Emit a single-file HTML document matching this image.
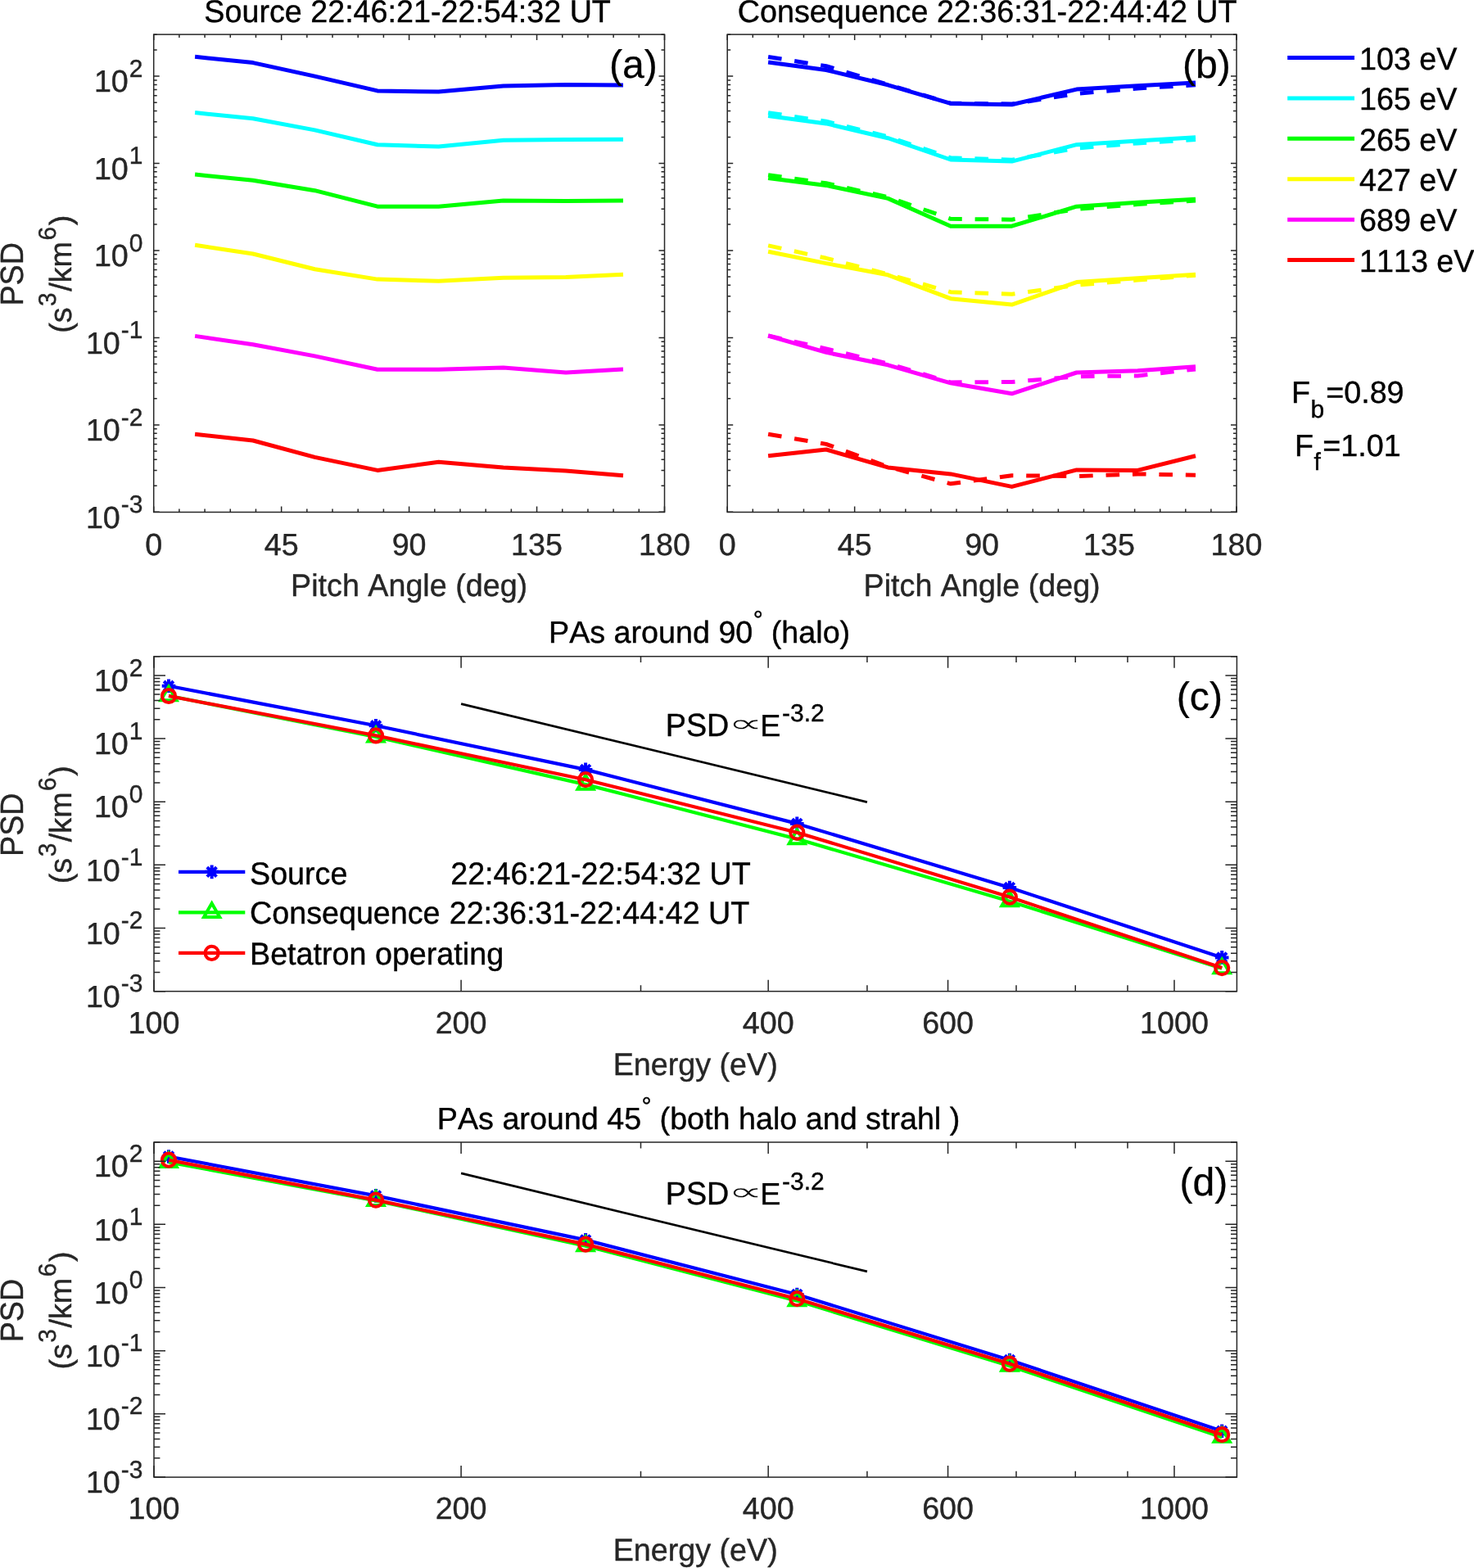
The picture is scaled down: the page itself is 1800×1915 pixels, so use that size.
<!DOCTYPE html>
<html lang="en">
<head>
<meta charset="utf-8">
<title>Electron PSD pitch-angle and energy distributions</title>
<style>
html,body{margin:0;padding:0;background:#fff;overflow:hidden;}
body{width:1800px;height:1915px;overflow:hidden;}
svg{display:block;font-family:'Liberation Sans', sans-serif;}
text{white-space:pre;font-kerning:none;font-variant-ligatures:none;}
</style>
</head>
<body>
<svg width="1800" height="1915" viewBox="0 0 1800 1915" text-rendering="geometricPrecision">
<rect x="0" y="0" width="1800" height="1915" fill="#fff"/>
<polyline points="238.1,69.3 308.9,76.6 384.4,93.1 460.9,110.9 535.6,112.1 614.7,105 691,103.6 761,104" fill="none" stroke="#0000ff" stroke-width="5.0" stroke-linejoin="round" />
<polyline points="238.1,137.6 308.9,144.7 384.4,158.9 460.9,176.7 535.6,179 614.7,171.3 691,170.6 761,170.3" fill="none" stroke="#00ffff" stroke-width="5.0" stroke-linejoin="round" />
<polyline points="238.1,213.1 308.9,220.2 384.4,232.7 460.9,252.2 535.6,252.2 614.7,245.1 691,245.4 761,245.1" fill="none" stroke="#00ff00" stroke-width="5.0" stroke-linejoin="round" />
<polyline points="238.1,299.3 308.9,310 384.4,328.7 460.9,341.1 535.6,343.3 614.7,339.2 691,338.5 761,335.3" fill="none" stroke="#ffff00" stroke-width="5.0" stroke-linejoin="round" />
<polyline points="238.1,410.4 308.9,420.7 384.4,434.9 460.9,451.2 535.6,451.2 614.7,449.1 691,455 761,450.9" fill="none" stroke="#ff00ff" stroke-width="5.0" stroke-linejoin="round" />
<polyline points="238.1,530.2 308.9,538 384.4,558.4 460.9,574.4 535.6,564.3 614.7,570.9 691,575 761,580.7" fill="none" stroke="#ff0000" stroke-width="5.0" stroke-linejoin="round" />
<rect x="187.7" y="42.1" width="623.8" height="583.4" fill="none" stroke="#262626" stroke-width="1.5"/>
<text transform="translate(174.5,644.55) scale(1,1.0)" font-size="37.7" fill="#262626" stroke="#262626" stroke-width="0.4" text-anchor="end">10<tspan font-size="30" dy="-18.6" dx="1">-3</tspan></text>
<text transform="translate(174.5,538.1) scale(1,1.0)" font-size="37.7" fill="#262626" stroke="#262626" stroke-width="0.4" text-anchor="end">10<tspan font-size="30" dy="-18.6" dx="1">-2</tspan></text>
<text transform="translate(174.5,431.65) scale(1,1.0)" font-size="37.7" fill="#262626" stroke="#262626" stroke-width="0.4" text-anchor="end">10<tspan font-size="30" dy="-18.6" dx="1">-1</tspan></text>
<text transform="translate(174.5,325.2) scale(1,1.0)" font-size="37.7" fill="#262626" stroke="#262626" stroke-width="0.4" text-anchor="end">10<tspan font-size="30" dy="-18.6" dx="1">0</tspan></text>
<text transform="translate(174.5,218.75) scale(1,1.0)" font-size="37.7" fill="#262626" stroke="#262626" stroke-width="0.4" text-anchor="end">10<tspan font-size="30" dy="-18.6" dx="1">1</tspan></text>
<text transform="translate(174.5,112.3) scale(1,1.0)" font-size="37.7" fill="#262626" stroke="#262626" stroke-width="0.4" text-anchor="end">10<tspan font-size="30" dy="-18.6" dx="1">2</tspan></text>
<path d="M187.7 625.35L194.7 625.35M811.5 625.35L804.5 625.35M187.7 593.31L191.7 593.31M811.5 593.31L807.5 593.31M187.7 574.56L191.7 574.56M811.5 574.56L807.5 574.56M187.7 561.26L191.7 561.26M811.5 561.26L807.5 561.26M187.7 550.94L191.7 550.94M811.5 550.94L807.5 550.94M187.7 542.52L191.7 542.52M811.5 542.52L807.5 542.52M187.7 535.39L191.7 535.39M811.5 535.39L807.5 535.39M187.7 529.22L191.7 529.22M811.5 529.22L807.5 529.22M187.7 523.77L191.7 523.77M811.5 523.77L807.5 523.77M187.7 518.9L194.7 518.9M811.5 518.9L804.5 518.9M187.7 486.86L191.7 486.86M811.5 486.86L807.5 486.86M187.7 468.11L191.7 468.11M811.5 468.11L807.5 468.11M187.7 454.81L191.7 454.81M811.5 454.81L807.5 454.81M187.7 444.49L191.7 444.49M811.5 444.49L807.5 444.49M187.7 436.07L191.7 436.07M811.5 436.07L807.5 436.07M187.7 428.94L191.7 428.94M811.5 428.94L807.5 428.94M187.7 422.77L191.7 422.77M811.5 422.77L807.5 422.77M187.7 417.32L191.7 417.32M811.5 417.32L807.5 417.32M187.7 412.45L194.7 412.45M811.5 412.45L804.5 412.45M187.7 380.41L191.7 380.41M811.5 380.41L807.5 380.41M187.7 361.66L191.7 361.66M811.5 361.66L807.5 361.66M187.7 348.36L191.7 348.36M811.5 348.36L807.5 348.36M187.7 338.04L191.7 338.04M811.5 338.04L807.5 338.04M187.7 329.62L191.7 329.62M811.5 329.62L807.5 329.62M187.7 322.49L191.7 322.49M811.5 322.49L807.5 322.49M187.7 316.32L191.7 316.32M811.5 316.32L807.5 316.32M187.7 310.87L191.7 310.87M811.5 310.87L807.5 310.87M187.7 306L194.7 306M811.5 306L804.5 306M187.7 273.96L191.7 273.96M811.5 273.96L807.5 273.96M187.7 255.21L191.7 255.21M811.5 255.21L807.5 255.21M187.7 241.91L191.7 241.91M811.5 241.91L807.5 241.91M187.7 231.59L191.7 231.59M811.5 231.59L807.5 231.59M187.7 223.17L191.7 223.17M811.5 223.17L807.5 223.17M187.7 216.04L191.7 216.04M811.5 216.04L807.5 216.04M187.7 209.87L191.7 209.87M811.5 209.87L807.5 209.87M187.7 204.42L191.7 204.42M811.5 204.42L807.5 204.42M187.7 199.55L194.7 199.55M811.5 199.55L804.5 199.55M187.7 167.51L191.7 167.51M811.5 167.51L807.5 167.51M187.7 148.76L191.7 148.76M811.5 148.76L807.5 148.76M187.7 135.46L191.7 135.46M811.5 135.46L807.5 135.46M187.7 125.14L191.7 125.14M811.5 125.14L807.5 125.14M187.7 116.72L191.7 116.72M811.5 116.72L807.5 116.72M187.7 109.59L191.7 109.59M811.5 109.59L807.5 109.59M187.7 103.42L191.7 103.42M811.5 103.42L807.5 103.42M187.7 97.97L191.7 97.97M811.5 97.97L807.5 97.97M187.7 93.1L194.7 93.1M811.5 93.1L804.5 93.1M187.7 61.06L191.7 61.06M811.5 61.06L807.5 61.06M187.7 42.31L191.7 42.31M811.5 42.31L807.5 42.31" stroke="#262626" stroke-width="1.5" fill="none"/>
<text transform="translate(187.7,677.5) scale(1,1.0)" font-size="37.7" fill="#262626" stroke="#262626" stroke-width="0.4" text-anchor="middle">0</text>
<text transform="translate(343.65,677.5) scale(1,1.0)" font-size="37.7" fill="#262626" stroke="#262626" stroke-width="0.4" text-anchor="middle">45</text>
<text transform="translate(499.6,677.5) scale(1,1.0)" font-size="37.7" fill="#262626" stroke="#262626" stroke-width="0.4" text-anchor="middle">90</text>
<text transform="translate(655.55,677.5) scale(1,1.0)" font-size="37.7" fill="#262626" stroke="#262626" stroke-width="0.4" text-anchor="middle">135</text>
<text transform="translate(811.5,677.5) scale(1,1.0)" font-size="37.7" fill="#262626" stroke="#262626" stroke-width="0.4" text-anchor="middle">180</text>
<path d="M187.7 625.5L187.7 618.5M187.7 42.1L187.7 49.1M218.89 625.5L218.89 621.5M218.89 42.1L218.89 46.1M250.08 625.5L250.08 621.5M250.08 42.1L250.08 46.1M281.27 625.5L281.27 621.5M281.27 42.1L281.27 46.1M312.46 625.5L312.46 621.5M312.46 42.1L312.46 46.1M343.65 625.5L343.65 618.5M343.65 42.1L343.65 49.1M374.84 625.5L374.84 621.5M374.84 42.1L374.84 46.1M406.03 625.5L406.03 621.5M406.03 42.1L406.03 46.1M437.22 625.5L437.22 621.5M437.22 42.1L437.22 46.1M468.41 625.5L468.41 621.5M468.41 42.1L468.41 46.1M499.6 625.5L499.6 618.5M499.6 42.1L499.6 49.1M530.79 625.5L530.79 621.5M530.79 42.1L530.79 46.1M561.98 625.5L561.98 621.5M561.98 42.1L561.98 46.1M593.17 625.5L593.17 621.5M593.17 42.1L593.17 46.1M624.36 625.5L624.36 621.5M624.36 42.1L624.36 46.1M655.55 625.5L655.55 618.5M655.55 42.1L655.55 49.1M686.74 625.5L686.74 621.5M686.74 42.1L686.74 46.1M717.93 625.5L717.93 621.5M717.93 42.1L717.93 46.1M749.12 625.5L749.12 621.5M749.12 42.1L749.12 46.1M780.31 625.5L780.31 621.5M780.31 42.1L780.31 46.1M811.5 625.5L811.5 618.5M811.5 42.1L811.5 49.1" stroke="#262626" stroke-width="1.5" fill="none"/>
<text transform="translate(499.6,727.9) scale(1,1.02)" font-size="37.7" fill="#262626" stroke="#262626" stroke-width="0.4" text-anchor="middle">Pitch Angle (deg)</text>
<text transform="translate(497.6,27) scale(1,1.02)" font-size="37.7" fill="#000" stroke="#000" stroke-width="0.4" text-anchor="middle">Source 22:46:21-22:54:32 UT</text>
<text transform="translate(744,95.1) scale(1,1.0)" font-size="48.2" fill="#000" stroke="#000" stroke-width="0.25">(a)</text>
<text transform="translate(28,334.8) rotate(-90) scale(1,1.045)" font-size="37.7" fill="#262626" stroke="#262626" stroke-width="0.4" text-anchor="middle">PSD</text>
<text transform="translate(86.8,334.8) rotate(-90) scale(1,1.0)" font-size="37.7" fill="#262626" stroke="#262626" stroke-width="0.4" text-anchor="middle">(s<tspan font-size="30" dy="-19.1" dx="1.5">3</tspan><tspan dy="19.1" dx="1.5">/km</tspan><tspan font-size="30" dy="-19.1" dx="1.5">6</tspan><tspan dy="19.1" dx="1.5">)</tspan></text>
<polyline points="938.1,69.5 1008.9,80.7 1084.4,103.3 1160.9,126.2 1235.6,127 1314.7,114.4 1389.3,107.9 1460,103.8" fill="none" stroke="#0000ff" stroke-width="5.0" stroke-linejoin="round" stroke-dasharray="16.6 15.85"/>
<polyline points="938.1,137.6 1008.9,148.2 1084.4,167 1160.9,192.7 1235.6,195.3 1314.7,181.1 1389.3,174.9 1460,170.4" fill="none" stroke="#00ffff" stroke-width="5.0" stroke-linejoin="round" stroke-dasharray="16.6 15.85"/>
<polyline points="938.1,213.6 1008.9,223.8 1084.4,240.7 1160.9,267.3 1235.6,268.2 1314.7,255.4 1389.3,249.6 1460,245.1" fill="none" stroke="#00ff00" stroke-width="5.0" stroke-linejoin="round" stroke-dasharray="16.6 15.85"/>
<polyline points="938.1,299.9 1008.9,315.3 1084.4,334.9 1160.9,356.7 1235.6,359.3 1314.7,348.1 1389.3,342.1 1460,336.2" fill="none" stroke="#ffff00" stroke-width="5.0" stroke-linejoin="round" stroke-dasharray="16.6 15.85"/>
<polyline points="938.1,410 1008.9,426 1084.4,444 1160.9,466.9 1235.6,466.5 1314.7,459.8 1389.3,458.9 1460,450.9" fill="none" stroke="#ff00ff" stroke-width="5.0" stroke-linejoin="round" stroke-dasharray="16.6 15.85"/>
<polyline points="938.1,530.2 1008.9,542.4 1084.4,570 1160.9,590.8 1235.6,580.7 1314.7,581.6 1389.3,578.9 1460,580.3" fill="none" stroke="#ff0000" stroke-width="5.0" stroke-linejoin="round" stroke-dasharray="16.6 15.85"/>
<polyline points="938.1,75.9 1008.9,85.5 1084.4,103.8 1160.9,126.4 1235.6,127.8 1314.7,109.1 1389.3,104.7 1460,100.9" fill="none" stroke="#0000ff" stroke-width="5.0" stroke-linejoin="round" />
<polyline points="938.1,141.6 1008.9,150.9 1084.4,168.7 1160.9,195 1235.6,197.1 1314.7,176.7 1389.3,171.9 1460,167.8" fill="none" stroke="#00ffff" stroke-width="5.0" stroke-linejoin="round" />
<polyline points="938.1,217.6 1008.9,226.4 1084.4,242.4 1160.9,276.2 1235.6,276.2 1314.7,252.2 1389.3,247.2 1460,243.3" fill="none" stroke="#00ff00" stroke-width="5.0" stroke-linejoin="round" />
<polyline points="938.1,307.3 1008.9,321.6 1084.4,335.8 1160.9,364.7 1235.6,372.1 1314.7,344.6 1389.3,339.8 1460,335.3" fill="none" stroke="#ffff00" stroke-width="5.0" stroke-linejoin="round" />
<polyline points="938.1,410 1008.9,430.4 1084.4,445.8 1160.9,467.8 1235.6,480.8 1314.7,455 1389.3,452.7 1460,447.7" fill="none" stroke="#ff00ff" stroke-width="5.0" stroke-linejoin="round" />
<polyline points="938.1,556.7 1008.9,549 1084.4,570.9 1160.9,578.9 1235.6,594.4 1314.7,573.9 1389.3,574.4 1460,556.7" fill="none" stroke="#ff0000" stroke-width="5.0" stroke-linejoin="round" />
<rect x="888.2" y="42.1" width="621.8" height="583.4" fill="none" stroke="#262626" stroke-width="1.5"/>
<path d="M888.2 625.35L895.2 625.35M1510 625.35L1503 625.35M888.2 593.31L892.2 593.31M1510 593.31L1506 593.31M888.2 574.56L892.2 574.56M1510 574.56L1506 574.56M888.2 561.26L892.2 561.26M1510 561.26L1506 561.26M888.2 550.94L892.2 550.94M1510 550.94L1506 550.94M888.2 542.52L892.2 542.52M1510 542.52L1506 542.52M888.2 535.39L892.2 535.39M1510 535.39L1506 535.39M888.2 529.22L892.2 529.22M1510 529.22L1506 529.22M888.2 523.77L892.2 523.77M1510 523.77L1506 523.77M888.2 518.9L895.2 518.9M1510 518.9L1503 518.9M888.2 486.86L892.2 486.86M1510 486.86L1506 486.86M888.2 468.11L892.2 468.11M1510 468.11L1506 468.11M888.2 454.81L892.2 454.81M1510 454.81L1506 454.81M888.2 444.49L892.2 444.49M1510 444.49L1506 444.49M888.2 436.07L892.2 436.07M1510 436.07L1506 436.07M888.2 428.94L892.2 428.94M1510 428.94L1506 428.94M888.2 422.77L892.2 422.77M1510 422.77L1506 422.77M888.2 417.32L892.2 417.32M1510 417.32L1506 417.32M888.2 412.45L895.2 412.45M1510 412.45L1503 412.45M888.2 380.41L892.2 380.41M1510 380.41L1506 380.41M888.2 361.66L892.2 361.66M1510 361.66L1506 361.66M888.2 348.36L892.2 348.36M1510 348.36L1506 348.36M888.2 338.04L892.2 338.04M1510 338.04L1506 338.04M888.2 329.62L892.2 329.62M1510 329.62L1506 329.62M888.2 322.49L892.2 322.49M1510 322.49L1506 322.49M888.2 316.32L892.2 316.32M1510 316.32L1506 316.32M888.2 310.87L892.2 310.87M1510 310.87L1506 310.87M888.2 306L895.2 306M1510 306L1503 306M888.2 273.96L892.2 273.96M1510 273.96L1506 273.96M888.2 255.21L892.2 255.21M1510 255.21L1506 255.21M888.2 241.91L892.2 241.91M1510 241.91L1506 241.91M888.2 231.59L892.2 231.59M1510 231.59L1506 231.59M888.2 223.17L892.2 223.17M1510 223.17L1506 223.17M888.2 216.04L892.2 216.04M1510 216.04L1506 216.04M888.2 209.87L892.2 209.87M1510 209.87L1506 209.87M888.2 204.42L892.2 204.42M1510 204.42L1506 204.42M888.2 199.55L895.2 199.55M1510 199.55L1503 199.55M888.2 167.51L892.2 167.51M1510 167.51L1506 167.51M888.2 148.76L892.2 148.76M1510 148.76L1506 148.76M888.2 135.46L892.2 135.46M1510 135.46L1506 135.46M888.2 125.14L892.2 125.14M1510 125.14L1506 125.14M888.2 116.72L892.2 116.72M1510 116.72L1506 116.72M888.2 109.59L892.2 109.59M1510 109.59L1506 109.59M888.2 103.42L892.2 103.42M1510 103.42L1506 103.42M888.2 97.97L892.2 97.97M1510 97.97L1506 97.97M888.2 93.1L895.2 93.1M1510 93.1L1503 93.1M888.2 61.06L892.2 61.06M1510 61.06L1506 61.06M888.2 42.31L892.2 42.31M1510 42.31L1506 42.31" stroke="#262626" stroke-width="1.5" fill="none"/>
<text transform="translate(888.2,677.5) scale(1,1.0)" font-size="37.7" fill="#262626" stroke="#262626" stroke-width="0.4" text-anchor="middle">0</text>
<text transform="translate(1043.65,677.5) scale(1,1.0)" font-size="37.7" fill="#262626" stroke="#262626" stroke-width="0.4" text-anchor="middle">45</text>
<text transform="translate(1199.1,677.5) scale(1,1.0)" font-size="37.7" fill="#262626" stroke="#262626" stroke-width="0.4" text-anchor="middle">90</text>
<text transform="translate(1354.55,677.5) scale(1,1.0)" font-size="37.7" fill="#262626" stroke="#262626" stroke-width="0.4" text-anchor="middle">135</text>
<text transform="translate(1510,677.5) scale(1,1.0)" font-size="37.7" fill="#262626" stroke="#262626" stroke-width="0.4" text-anchor="middle">180</text>
<path d="M888.2 625.5L888.2 618.5M888.2 42.1L888.2 49.1M919.29 625.5L919.29 621.5M919.29 42.1L919.29 46.1M950.38 625.5L950.38 621.5M950.38 42.1L950.38 46.1M981.47 625.5L981.47 621.5M981.47 42.1L981.47 46.1M1012.56 625.5L1012.56 621.5M1012.56 42.1L1012.56 46.1M1043.65 625.5L1043.65 618.5M1043.65 42.1L1043.65 49.1M1074.74 625.5L1074.74 621.5M1074.74 42.1L1074.74 46.1M1105.83 625.5L1105.83 621.5M1105.83 42.1L1105.83 46.1M1136.92 625.5L1136.92 621.5M1136.92 42.1L1136.92 46.1M1168.01 625.5L1168.01 621.5M1168.01 42.1L1168.01 46.1M1199.1 625.5L1199.1 618.5M1199.1 42.1L1199.1 49.1M1230.19 625.5L1230.19 621.5M1230.19 42.1L1230.19 46.1M1261.28 625.5L1261.28 621.5M1261.28 42.1L1261.28 46.1M1292.37 625.5L1292.37 621.5M1292.37 42.1L1292.37 46.1M1323.46 625.5L1323.46 621.5M1323.46 42.1L1323.46 46.1M1354.55 625.5L1354.55 618.5M1354.55 42.1L1354.55 49.1M1385.64 625.5L1385.64 621.5M1385.64 42.1L1385.64 46.1M1416.73 625.5L1416.73 621.5M1416.73 42.1L1416.73 46.1M1447.82 625.5L1447.82 621.5M1447.82 42.1L1447.82 46.1M1478.91 625.5L1478.91 621.5M1478.91 42.1L1478.91 46.1M1510 625.5L1510 618.5M1510 42.1L1510 49.1" stroke="#262626" stroke-width="1.5" fill="none"/>
<text transform="translate(1199.1,727.9) scale(1,1.02)" font-size="37.7" fill="#262626" stroke="#262626" stroke-width="0.4" text-anchor="middle">Pitch Angle (deg)</text>
<text transform="translate(1205.7,27) scale(1,1.02)" font-size="37.7" fill="#000" stroke="#000" stroke-width="0.4" text-anchor="middle">Consequence 22:36:31-22:44:42 UT</text>
<text transform="translate(1444,95.1) scale(1,1.0)" font-size="48.2" fill="#000" stroke="#000" stroke-width="0.25">(b)</text>
<line x1="1572.2" y1="70.5" x2="1654" y2="70.5" stroke="#0000ff" stroke-width="5.0" />
<text transform="translate(1660,84.7) scale(1,1.02)" font-size="37.7" fill="#000" stroke="#000" stroke-width="0.4">103 eV</text>
<line x1="1572.2" y1="119.92" x2="1654" y2="119.92" stroke="#00ffff" stroke-width="5.0" />
<text transform="translate(1660,134.12) scale(1,1.02)" font-size="37.7" fill="#000" stroke="#000" stroke-width="0.4">165 eV</text>
<line x1="1572.2" y1="169.34" x2="1654" y2="169.34" stroke="#00ff00" stroke-width="5.0" />
<text transform="translate(1660,183.54) scale(1,1.02)" font-size="37.7" fill="#000" stroke="#000" stroke-width="0.4">265 eV</text>
<line x1="1572.2" y1="218.76" x2="1654" y2="218.76" stroke="#ffff00" stroke-width="5.0" />
<text transform="translate(1660,232.96) scale(1,1.02)" font-size="37.7" fill="#000" stroke="#000" stroke-width="0.4">427 eV</text>
<line x1="1572.2" y1="268.18" x2="1654" y2="268.18" stroke="#ff00ff" stroke-width="5.0" />
<text transform="translate(1660,282.38) scale(1,1.02)" font-size="37.7" fill="#000" stroke="#000" stroke-width="0.4">689 eV</text>
<line x1="1572.2" y1="317.6" x2="1654" y2="317.6" stroke="#ff0000" stroke-width="5.0" />
<text transform="translate(1660,331.8) scale(1,1.02)" font-size="37.7" fill="#000" stroke="#000" stroke-width="0.4">1113 eV</text>
<text transform="translate(1577,492.1) scale(1,1.0)" font-size="37.7" fill="#000" stroke="#000" stroke-width="0.4">F<tspan font-size="30" dy="17.6" dx="0.5">b</tspan><tspan dy="-17.6" dx="2">=0.89</tspan></text>
<text transform="translate(1581,556.8) scale(1,1.0)" font-size="37.7" fill="#000" stroke="#000" stroke-width="0.4">F<tspan font-size="30" dy="17.6" dx="0.5">f</tspan><tspan dy="-17.6" dx="2.4">=1.01</tspan></text>
<line x1="563.08" y1="859.6" x2="1058.92" y2="979.6" stroke="#000" stroke-width="2.67" />
<polyline points="206,837.8 459,886.3 715.1,939.9 973.3,1005.9 1232.9,1084 1492.2,1169.4" fill="none" stroke="#0000ff" stroke-width="4.2" stroke-linejoin="round" />
<path d="M197.7 837.8H214.3M206 829.5V846.1M200.19 831.99L211.81 843.61M200.19 843.61L211.81 831.99" stroke="#0000ff" stroke-width="4.0" fill="none"/>
<path d="M450.7 886.3H467.3M459 878V894.6M453.19 880.49L464.81 892.11M453.19 892.11L464.81 880.49" stroke="#0000ff" stroke-width="4.0" fill="none"/>
<path d="M706.8 939.9H723.4M715.1 931.6V948.2M709.29 934.09L720.91 945.71M709.29 945.71L720.91 934.09" stroke="#0000ff" stroke-width="4.0" fill="none"/>
<path d="M965 1005.9H981.6M973.3 997.6V1014.2M967.49 1000.09L979.11 1011.71M967.49 1011.71L979.11 1000.09" stroke="#0000ff" stroke-width="4.0" fill="none"/>
<path d="M1224.6 1084H1241.2M1232.9 1075.7V1092.3M1227.09 1078.19L1238.71 1089.81M1227.09 1089.81L1238.71 1078.19" stroke="#0000ff" stroke-width="4.0" fill="none"/>
<path d="M1483.9 1169.4H1500.5M1492.2 1161.1V1177.7M1486.39 1163.59L1498.01 1175.21M1486.39 1175.21L1498.01 1163.59" stroke="#0000ff" stroke-width="4.0" fill="none"/>
<polyline points="206,849.8 459,899.9 715.1,958.1 973.3,1024.6 1232.9,1100.7 1492.2,1182.8" fill="none" stroke="#00ff00" stroke-width="4.2" stroke-linejoin="round" />
<path d="M206 838.71L215.6 855.34L196.4 855.34Z" stroke="#00ff00" stroke-width="4.0" fill="none" stroke-linejoin="miter"/>
<path d="M459 888.81L468.6 905.44L449.4 905.44Z" stroke="#00ff00" stroke-width="4.0" fill="none" stroke-linejoin="miter"/>
<path d="M715.1 947.01L724.7 963.64L705.5 963.64Z" stroke="#00ff00" stroke-width="4.0" fill="none" stroke-linejoin="miter"/>
<path d="M973.3 1013.51L982.9 1030.14L963.7 1030.14Z" stroke="#00ff00" stroke-width="4.0" fill="none" stroke-linejoin="miter"/>
<path d="M1232.9 1089.61L1242.5 1106.24L1223.3 1106.24Z" stroke="#00ff00" stroke-width="4.0" fill="none" stroke-linejoin="miter"/>
<path d="M1492.2 1171.71L1501.8 1188.34L1482.6 1188.34Z" stroke="#00ff00" stroke-width="4.0" fill="none" stroke-linejoin="miter"/>
<polyline points="206,850 459,898.3 715.1,952.2 973.3,1016.7 1232.9,1095.6 1492.2,1182.1" fill="none" stroke="#ff0000" stroke-width="4.2" stroke-linejoin="round" />
<circle cx="206" cy="850" r="8.1" stroke="#ff0000" stroke-width="4.0" fill="none"/>
<circle cx="459" cy="898.3" r="8.1" stroke="#ff0000" stroke-width="4.0" fill="none"/>
<circle cx="715.1" cy="952.2" r="8.1" stroke="#ff0000" stroke-width="4.0" fill="none"/>
<circle cx="973.3" cy="1016.7" r="8.1" stroke="#ff0000" stroke-width="4.0" fill="none"/>
<circle cx="1232.9" cy="1095.6" r="8.1" stroke="#ff0000" stroke-width="4.0" fill="none"/>
<circle cx="1492.2" cy="1182.1" r="8.1" stroke="#ff0000" stroke-width="4.0" fill="none"/>
<rect x="188" y="801.7" width="1322.4" height="409" fill="none" stroke="#262626" stroke-width="1.5"/>
<text transform="translate(174.5,1229.85) scale(1,1.0)" font-size="37.7" fill="#262626" stroke="#262626" stroke-width="0.4" text-anchor="end">10<tspan font-size="30" dy="-18.6" dx="1">-3</tspan></text>
<text transform="translate(174.5,1152.7) scale(1,1.0)" font-size="37.7" fill="#262626" stroke="#262626" stroke-width="0.4" text-anchor="end">10<tspan font-size="30" dy="-18.6" dx="1">-2</tspan></text>
<text transform="translate(174.5,1075.55) scale(1,1.0)" font-size="37.7" fill="#262626" stroke="#262626" stroke-width="0.4" text-anchor="end">10<tspan font-size="30" dy="-18.6" dx="1">-1</tspan></text>
<text transform="translate(174.5,998.4) scale(1,1.0)" font-size="37.7" fill="#262626" stroke="#262626" stroke-width="0.4" text-anchor="end">10<tspan font-size="30" dy="-18.6" dx="1">0</tspan></text>
<text transform="translate(174.5,921.25) scale(1,1.0)" font-size="37.7" fill="#262626" stroke="#262626" stroke-width="0.4" text-anchor="end">10<tspan font-size="30" dy="-18.6" dx="1">1</tspan></text>
<text transform="translate(174.5,844.1) scale(1,1.0)" font-size="37.7" fill="#262626" stroke="#262626" stroke-width="0.4" text-anchor="end">10<tspan font-size="30" dy="-18.6" dx="1">2</tspan></text>
<path d="M188 1210.65L202 1210.65M1510.4 1210.65L1496.4 1210.65M188 1187.43L195.4 1187.43M1510.4 1187.43L1503 1187.43M188 1173.84L195.4 1173.84M1510.4 1173.84L1503 1173.84M188 1164.2L195.4 1164.2M1510.4 1164.2L1503 1164.2M188 1156.72L195.4 1156.72M1510.4 1156.72L1503 1156.72M188 1150.62L195.4 1150.62M1510.4 1150.62L1503 1150.62M188 1145.45L195.4 1145.45M1510.4 1145.45L1503 1145.45M188 1140.98L195.4 1140.98M1510.4 1140.98L1503 1140.98M188 1137.03L195.4 1137.03M1510.4 1137.03L1503 1137.03M188 1133.5L202 1133.5M1510.4 1133.5L1496.4 1133.5M188 1110.28L195.4 1110.28M1510.4 1110.28L1503 1110.28M188 1096.69L195.4 1096.69M1510.4 1096.69L1503 1096.69M188 1087.05L195.4 1087.05M1510.4 1087.05L1503 1087.05M188 1079.57L195.4 1079.57M1510.4 1079.57L1503 1079.57M188 1073.47L195.4 1073.47M1510.4 1073.47L1503 1073.47M188 1068.3L195.4 1068.3M1510.4 1068.3L1503 1068.3M188 1063.83L195.4 1063.83M1510.4 1063.83L1503 1063.83M188 1059.88L195.4 1059.88M1510.4 1059.88L1503 1059.88M188 1056.35L202 1056.35M1510.4 1056.35L1496.4 1056.35M188 1033.13L195.4 1033.13M1510.4 1033.13L1503 1033.13M188 1019.54L195.4 1019.54M1510.4 1019.54L1503 1019.54M188 1009.9L195.4 1009.9M1510.4 1009.9L1503 1009.9M188 1002.42L195.4 1002.42M1510.4 1002.42L1503 1002.42M188 996.32L195.4 996.32M1510.4 996.32L1503 996.32M188 991.15L195.4 991.15M1510.4 991.15L1503 991.15M188 986.68L195.4 986.68M1510.4 986.68L1503 986.68M188 982.73L195.4 982.73M1510.4 982.73L1503 982.73M188 979.2L202 979.2M1510.4 979.2L1496.4 979.2M188 955.98L195.4 955.98M1510.4 955.98L1503 955.98M188 942.39L195.4 942.39M1510.4 942.39L1503 942.39M188 932.75L195.4 932.75M1510.4 932.75L1503 932.75M188 925.27L195.4 925.27M1510.4 925.27L1503 925.27M188 919.17L195.4 919.17M1510.4 919.17L1503 919.17M188 914L195.4 914M1510.4 914L1503 914M188 909.53L195.4 909.53M1510.4 909.53L1503 909.53M188 905.58L195.4 905.58M1510.4 905.58L1503 905.58M188 902.05L202 902.05M1510.4 902.05L1496.4 902.05M188 878.83L195.4 878.83M1510.4 878.83L1503 878.83M188 865.24L195.4 865.24M1510.4 865.24L1503 865.24M188 855.6L195.4 855.6M1510.4 855.6L1503 855.6M188 848.12L195.4 848.12M1510.4 848.12L1503 848.12M188 842.02L195.4 842.02M1510.4 842.02L1503 842.02M188 836.85L195.4 836.85M1510.4 836.85L1503 836.85M188 832.38L195.4 832.38M1510.4 832.38L1503 832.38M188 828.43L195.4 828.43M1510.4 828.43L1503 828.43M188 824.9L202 824.9M1510.4 824.9L1496.4 824.9M188 801.68L195.4 801.68M1510.4 801.68L1503 801.68" stroke="#262626" stroke-width="1.5" fill="none"/>
<text transform="translate(188,1262) scale(1,1.0)" font-size="37.7" fill="#262626" stroke="#262626" stroke-width="0.4" text-anchor="middle">100</text>
<text transform="translate(563.08,1262) scale(1,1.0)" font-size="37.7" fill="#262626" stroke="#262626" stroke-width="0.4" text-anchor="middle">200</text>
<text transform="translate(938.17,1262) scale(1,1.0)" font-size="37.7" fill="#262626" stroke="#262626" stroke-width="0.4" text-anchor="middle">400</text>
<text transform="translate(1157.58,1262) scale(1,1.0)" font-size="37.7" fill="#262626" stroke="#262626" stroke-width="0.4" text-anchor="middle">600</text>
<text transform="translate(1434,1262) scale(1,1.0)" font-size="37.7" fill="#262626" stroke="#262626" stroke-width="0.4" text-anchor="middle">1000</text>
<path d="M188 1210.7L188 1196.7M188 801.7L188 815.7M563.08 1210.7L563.08 1196.7M563.08 801.7L563.08 815.7M782.49 1210.7L782.49 1203.3M782.49 801.7L782.49 809.1M938.17 1210.7L938.17 1196.7M938.17 801.7L938.17 815.7M1058.92 1210.7L1058.92 1203.3M1058.92 801.7L1058.92 809.1M1157.58 1210.7L1157.58 1196.7M1157.58 801.7L1157.58 815.7M1240.99 1210.7L1240.99 1203.3M1240.99 801.7L1240.99 809.1M1313.25 1210.7L1313.25 1203.3M1313.25 801.7L1313.25 809.1M1376.99 1210.7L1376.99 1203.3M1376.99 801.7L1376.99 809.1M1434 1210.7L1434 1196.7M1434 801.7L1434 815.7" stroke="#262626" stroke-width="1.5" fill="none"/>
<text transform="translate(849.2,1313.1) scale(1,1.02)" font-size="37.7" fill="#262626" stroke="#262626" stroke-width="0.4" text-anchor="middle">Energy (eV)</text>
<text transform="translate(670,785) scale(1,1.0)" font-size="37.7" fill="#000" stroke="#000" stroke-width="0.4">PAs around 90<tspan font-size="30" dy="-18" dx="0.4">°</tspan><tspan dy="18" dx="-0.4"> (halo)</tspan></text>
<text transform="translate(1436.8,866.9) scale(1,1.0)" font-size="48.2" fill="#000" stroke="#000" stroke-width="0.25">(c)</text>
<text transform="translate(812.8,898.8) scale(1,1.045)" font-size="37.7" fill="#000" stroke="#000" stroke-width="0.4">PSD</text>
<text transform="translate(888.95,894.3) scale(1.943,1)" font-family="'DejaVu Sans', sans-serif" font-size="30.9" fill="#000" stroke="#fff" stroke-width="0.4">∝</text>
<text transform="translate(928.3,898.8) scale(1,1.0)" font-size="37.7" fill="#000" stroke="#000" stroke-width="0.4">E<tspan font-size="30" dy="-17.8" dx="1.6">-3.2</tspan></text>
<text transform="translate(28,1007.2) rotate(-90) scale(1,1.045)" font-size="37.7" fill="#262626" stroke="#262626" stroke-width="0.4" text-anchor="middle">PSD</text>
<text transform="translate(86.8,1007.2) rotate(-90) scale(1,1.0)" font-size="37.7" fill="#262626" stroke="#262626" stroke-width="0.4" text-anchor="middle">(s<tspan font-size="30" dy="-19.1" dx="1.5">3</tspan><tspan dy="19.1" dx="1.5">/km</tspan><tspan font-size="30" dy="-19.1" dx="1.5">6</tspan><tspan dy="19.1" dx="1.5">)</tspan></text>
<line x1="218" y1="1064.85" x2="299.3" y2="1064.85" stroke="#0000ff" stroke-width="4.2" />
<path d="M250.35 1064.85H266.95M258.65 1056.55V1073.15M252.84 1059.04L264.46 1070.66M252.84 1070.66L264.46 1059.04" stroke="#0000ff" stroke-width="4.0" fill="none"/>
<text transform="translate(305,1079.65) scale(1,1.02)" font-size="37.7" fill="#000" stroke="#000" stroke-width="0.4">Source <tspan x="245.2">22:46:21-22:54:32 UT</tspan></text>
<line x1="218" y1="1114.35" x2="299.3" y2="1114.35" stroke="#00ff00" stroke-width="4.2" />
<path d="M258.65 1103.26L268.25 1119.89L249.05 1119.89Z" stroke="#00ff00" stroke-width="4.0" fill="none" stroke-linejoin="miter"/>
<text transform="translate(305,1128.15) scale(1,1.02)" font-size="37.7" fill="#000" stroke="#000" stroke-width="0.4">Consequence <tspan x="243.7">22:36:31-22:44:42 UT</tspan></text>
<line x1="218" y1="1163.85" x2="299.3" y2="1163.85" stroke="#ff0000" stroke-width="4.2" />
<circle cx="258.65" cy="1163.85" r="8.1" stroke="#ff0000" stroke-width="4.0" fill="none"/>
<text transform="translate(305,1177.95) scale(1,1.02)" font-size="37.7" fill="#000" stroke="#000" stroke-width="0.4">Betatron operating</text>
<line x1="563.08" y1="1432.9" x2="1058.92" y2="1552.9" stroke="#000" stroke-width="2.67" />
<polyline points="206,1412.5 459,1460.4 715.1,1514.4 973.3,1581 1232.9,1661 1492.2,1747.8" fill="none" stroke="#0000ff" stroke-width="4.2" stroke-linejoin="round" />
<path d="M197.7 1412.5H214.3M206 1404.2V1420.8M200.19 1406.69L211.81 1418.31M200.19 1418.31L211.81 1406.69" stroke="#0000ff" stroke-width="4.0" fill="none"/>
<path d="M450.7 1460.4H467.3M459 1452.1V1468.7M453.19 1454.59L464.81 1466.21M453.19 1466.21L464.81 1454.59" stroke="#0000ff" stroke-width="4.0" fill="none"/>
<path d="M706.8 1514.4H723.4M715.1 1506.1V1522.7M709.29 1508.59L720.91 1520.21M709.29 1520.21L720.91 1508.59" stroke="#0000ff" stroke-width="4.0" fill="none"/>
<path d="M965 1581H981.6M973.3 1572.7V1589.3M967.49 1575.19L979.11 1586.81M967.49 1586.81L979.11 1575.19" stroke="#0000ff" stroke-width="4.0" fill="none"/>
<path d="M1224.6 1661H1241.2M1232.9 1652.7V1669.3M1227.09 1655.19L1238.71 1666.81M1227.09 1666.81L1238.71 1655.19" stroke="#0000ff" stroke-width="4.0" fill="none"/>
<path d="M1483.9 1747.8H1500.5M1492.2 1739.5V1756.1M1486.39 1741.99L1498.01 1753.61M1486.39 1753.61L1498.01 1741.99" stroke="#0000ff" stroke-width="4.0" fill="none"/>
<polyline points="206,1419.4 459,1466.4 715.1,1521.6 973.3,1588.6 1232.9,1668.2 1492.2,1755.3" fill="none" stroke="#00ff00" stroke-width="4.2" stroke-linejoin="round" />
<path d="M206 1408.31L215.6 1424.94L196.4 1424.94Z" stroke="#00ff00" stroke-width="4.0" fill="none" stroke-linejoin="miter"/>
<path d="M459 1455.31L468.6 1471.94L449.4 1471.94Z" stroke="#00ff00" stroke-width="4.0" fill="none" stroke-linejoin="miter"/>
<path d="M715.1 1510.51L724.7 1527.14L705.5 1527.14Z" stroke="#00ff00" stroke-width="4.0" fill="none" stroke-linejoin="miter"/>
<path d="M973.3 1577.51L982.9 1594.14L963.7 1594.14Z" stroke="#00ff00" stroke-width="4.0" fill="none" stroke-linejoin="miter"/>
<path d="M1232.9 1657.11L1242.5 1673.74L1223.3 1673.74Z" stroke="#00ff00" stroke-width="4.0" fill="none" stroke-linejoin="miter"/>
<path d="M1492.2 1744.21L1501.8 1760.84L1482.6 1760.84Z" stroke="#00ff00" stroke-width="4.0" fill="none" stroke-linejoin="miter"/>
<polyline points="206,1416.7 459,1465.6 715.1,1519.6 973.3,1586.2 1232.9,1665.6 1492.2,1752.2" fill="none" stroke="#ff0000" stroke-width="4.2" stroke-linejoin="round" />
<circle cx="206" cy="1416.7" r="8.1" stroke="#ff0000" stroke-width="4.0" fill="none"/>
<circle cx="459" cy="1465.6" r="8.1" stroke="#ff0000" stroke-width="4.0" fill="none"/>
<circle cx="715.1" cy="1519.6" r="8.1" stroke="#ff0000" stroke-width="4.0" fill="none"/>
<circle cx="973.3" cy="1586.2" r="8.1" stroke="#ff0000" stroke-width="4.0" fill="none"/>
<circle cx="1232.9" cy="1665.6" r="8.1" stroke="#ff0000" stroke-width="4.0" fill="none"/>
<circle cx="1492.2" cy="1752.2" r="8.1" stroke="#ff0000" stroke-width="4.0" fill="none"/>
<rect x="188" y="1395" width="1322.4" height="409.1" fill="none" stroke="#262626" stroke-width="1.5"/>
<text transform="translate(174.5,1823.15) scale(1,1.0)" font-size="37.7" fill="#262626" stroke="#262626" stroke-width="0.4" text-anchor="end">10<tspan font-size="30" dy="-18.6" dx="1">-3</tspan></text>
<text transform="translate(174.5,1746) scale(1,1.0)" font-size="37.7" fill="#262626" stroke="#262626" stroke-width="0.4" text-anchor="end">10<tspan font-size="30" dy="-18.6" dx="1">-2</tspan></text>
<text transform="translate(174.5,1668.85) scale(1,1.0)" font-size="37.7" fill="#262626" stroke="#262626" stroke-width="0.4" text-anchor="end">10<tspan font-size="30" dy="-18.6" dx="1">-1</tspan></text>
<text transform="translate(174.5,1591.7) scale(1,1.0)" font-size="37.7" fill="#262626" stroke="#262626" stroke-width="0.4" text-anchor="end">10<tspan font-size="30" dy="-18.6" dx="1">0</tspan></text>
<text transform="translate(174.5,1514.55) scale(1,1.0)" font-size="37.7" fill="#262626" stroke="#262626" stroke-width="0.4" text-anchor="end">10<tspan font-size="30" dy="-18.6" dx="1">1</tspan></text>
<text transform="translate(174.5,1437.4) scale(1,1.0)" font-size="37.7" fill="#262626" stroke="#262626" stroke-width="0.4" text-anchor="end">10<tspan font-size="30" dy="-18.6" dx="1">2</tspan></text>
<path d="M188 1803.95L202 1803.95M1510.4 1803.95L1496.4 1803.95M188 1780.73L195.4 1780.73M1510.4 1780.73L1503 1780.73M188 1767.14L195.4 1767.14M1510.4 1767.14L1503 1767.14M188 1757.5L195.4 1757.5M1510.4 1757.5L1503 1757.5M188 1750.02L195.4 1750.02M1510.4 1750.02L1503 1750.02M188 1743.92L195.4 1743.92M1510.4 1743.92L1503 1743.92M188 1738.75L195.4 1738.75M1510.4 1738.75L1503 1738.75M188 1734.28L195.4 1734.28M1510.4 1734.28L1503 1734.28M188 1730.33L195.4 1730.33M1510.4 1730.33L1503 1730.33M188 1726.8L202 1726.8M1510.4 1726.8L1496.4 1726.8M188 1703.58L195.4 1703.58M1510.4 1703.58L1503 1703.58M188 1689.99L195.4 1689.99M1510.4 1689.99L1503 1689.99M188 1680.35L195.4 1680.35M1510.4 1680.35L1503 1680.35M188 1672.87L195.4 1672.87M1510.4 1672.87L1503 1672.87M188 1666.77L195.4 1666.77M1510.4 1666.77L1503 1666.77M188 1661.6L195.4 1661.6M1510.4 1661.6L1503 1661.6M188 1657.13L195.4 1657.13M1510.4 1657.13L1503 1657.13M188 1653.18L195.4 1653.18M1510.4 1653.18L1503 1653.18M188 1649.65L202 1649.65M1510.4 1649.65L1496.4 1649.65M188 1626.43L195.4 1626.43M1510.4 1626.43L1503 1626.43M188 1612.84L195.4 1612.84M1510.4 1612.84L1503 1612.84M188 1603.2L195.4 1603.2M1510.4 1603.2L1503 1603.2M188 1595.72L195.4 1595.72M1510.4 1595.72L1503 1595.72M188 1589.62L195.4 1589.62M1510.4 1589.62L1503 1589.62M188 1584.45L195.4 1584.45M1510.4 1584.45L1503 1584.45M188 1579.98L195.4 1579.98M1510.4 1579.98L1503 1579.98M188 1576.03L195.4 1576.03M1510.4 1576.03L1503 1576.03M188 1572.5L202 1572.5M1510.4 1572.5L1496.4 1572.5M188 1549.28L195.4 1549.28M1510.4 1549.28L1503 1549.28M188 1535.69L195.4 1535.69M1510.4 1535.69L1503 1535.69M188 1526.05L195.4 1526.05M1510.4 1526.05L1503 1526.05M188 1518.57L195.4 1518.57M1510.4 1518.57L1503 1518.57M188 1512.47L195.4 1512.47M1510.4 1512.47L1503 1512.47M188 1507.3L195.4 1507.3M1510.4 1507.3L1503 1507.3M188 1502.83L195.4 1502.83M1510.4 1502.83L1503 1502.83M188 1498.88L195.4 1498.88M1510.4 1498.88L1503 1498.88M188 1495.35L202 1495.35M1510.4 1495.35L1496.4 1495.35M188 1472.13L195.4 1472.13M1510.4 1472.13L1503 1472.13M188 1458.54L195.4 1458.54M1510.4 1458.54L1503 1458.54M188 1448.9L195.4 1448.9M1510.4 1448.9L1503 1448.9M188 1441.42L195.4 1441.42M1510.4 1441.42L1503 1441.42M188 1435.32L195.4 1435.32M1510.4 1435.32L1503 1435.32M188 1430.15L195.4 1430.15M1510.4 1430.15L1503 1430.15M188 1425.68L195.4 1425.68M1510.4 1425.68L1503 1425.68M188 1421.73L195.4 1421.73M1510.4 1421.73L1503 1421.73M188 1418.2L202 1418.2M1510.4 1418.2L1496.4 1418.2M188 1394.98L195.4 1394.98M1510.4 1394.98L1503 1394.98" stroke="#262626" stroke-width="1.5" fill="none"/>
<text transform="translate(188,1855.4) scale(1,1.0)" font-size="37.7" fill="#262626" stroke="#262626" stroke-width="0.4" text-anchor="middle">100</text>
<text transform="translate(563.08,1855.4) scale(1,1.0)" font-size="37.7" fill="#262626" stroke="#262626" stroke-width="0.4" text-anchor="middle">200</text>
<text transform="translate(938.17,1855.4) scale(1,1.0)" font-size="37.7" fill="#262626" stroke="#262626" stroke-width="0.4" text-anchor="middle">400</text>
<text transform="translate(1157.58,1855.4) scale(1,1.0)" font-size="37.7" fill="#262626" stroke="#262626" stroke-width="0.4" text-anchor="middle">600</text>
<text transform="translate(1434,1855.4) scale(1,1.0)" font-size="37.7" fill="#262626" stroke="#262626" stroke-width="0.4" text-anchor="middle">1000</text>
<path d="M188 1804.1L188 1790.1M188 1395L188 1409M563.08 1804.1L563.08 1790.1M563.08 1395L563.08 1409M782.49 1804.1L782.49 1796.7M782.49 1395L782.49 1402.4M938.17 1804.1L938.17 1790.1M938.17 1395L938.17 1409M1058.92 1804.1L1058.92 1796.7M1058.92 1395L1058.92 1402.4M1157.58 1804.1L1157.58 1790.1M1157.58 1395L1157.58 1409M1240.99 1804.1L1240.99 1796.7M1240.99 1395L1240.99 1402.4M1313.25 1804.1L1313.25 1796.7M1313.25 1395L1313.25 1402.4M1376.99 1804.1L1376.99 1796.7M1376.99 1395L1376.99 1402.4M1434 1804.1L1434 1790.1M1434 1395L1434 1409" stroke="#262626" stroke-width="1.5" fill="none"/>
<text transform="translate(849.2,1906) scale(1,1.02)" font-size="37.7" fill="#262626" stroke="#262626" stroke-width="0.4" text-anchor="middle">Energy (eV)</text>
<text transform="translate(533.8,1379) scale(1,1.0)" font-size="37.7" fill="#000" stroke="#000" stroke-width="0.4">PAs around 45<tspan font-size="30" dy="-18" dx="0.4">°</tspan><tspan dy="18" dx="-0.4"> (both halo and strahl )</tspan></text>
<text transform="translate(1440.5,1460) scale(1,1.0)" font-size="48.2" fill="#000" stroke="#000" stroke-width="0.25">(d)</text>
<text transform="translate(812.8,1470.6) scale(1,1.045)" font-size="37.7" fill="#000" stroke="#000" stroke-width="0.4">PSD</text>
<text transform="translate(888.95,1466.1) scale(1.943,1)" font-family="'DejaVu Sans', sans-serif" font-size="30.9" fill="#000" stroke="#fff" stroke-width="0.4">∝</text>
<text transform="translate(928.3,1470.6) scale(1,1.0)" font-size="37.7" fill="#000" stroke="#000" stroke-width="0.4">E<tspan font-size="30" dy="-17.8" dx="1.6">-3.2</tspan></text>
<text transform="translate(28,1600.55) rotate(-90) scale(1,1.045)" font-size="37.7" fill="#262626" stroke="#262626" stroke-width="0.4" text-anchor="middle">PSD</text>
<text transform="translate(86.8,1600.55) rotate(-90) scale(1,1.0)" font-size="37.7" fill="#262626" stroke="#262626" stroke-width="0.4" text-anchor="middle">(s<tspan font-size="30" dy="-19.1" dx="1.5">3</tspan><tspan dy="19.1" dx="1.5">/km</tspan><tspan font-size="30" dy="-19.1" dx="1.5">6</tspan><tspan dy="19.1" dx="1.5">)</tspan></text>
</svg>
</body>
</html>
